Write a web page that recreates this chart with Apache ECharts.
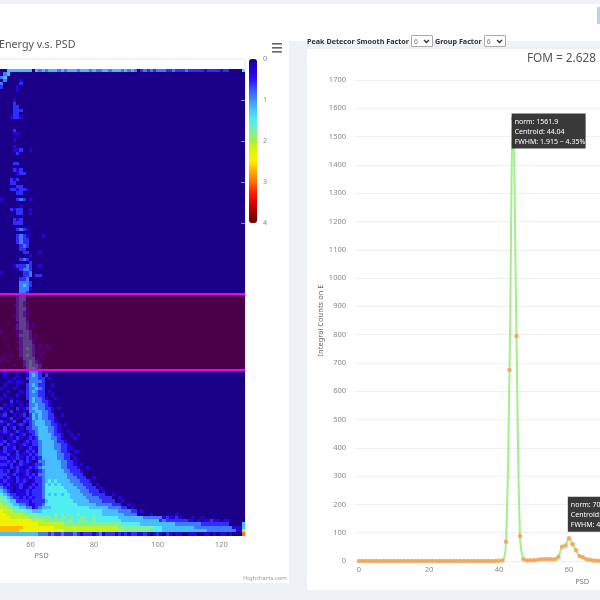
<!DOCTYPE html>
<html>
<head>
<meta charset="utf-8">
<title>Energy v.s. PSD</title>
<script src="https://cdn.jsdelivr.net/npm/echarts@6/dist/echarts.min.js"></script>
<style>
html, body { margin: 0; padding: 0; width: 600px; height: 600px; overflow: hidden; background: #eef1f5; font-family: "Noto Sans", sans-serif; }
.panel { position: absolute; background: #fff; }
#main { position: absolute; left: 0; top: 0; width: 600px; height: 600px; }
#controls { position: absolute; left: 307px; top: 35px; height: 12px; display: flex; align-items: center; font-size: 7.2px; font-weight: bold; color: #333; white-space: nowrap; }
#controls select { appearance: none; -webkit-appearance: none; width: 22px; height: 12px; font-size: 7px; padding: 0 0 0 2px; margin: 0 2px; color: #777; border: 1px solid #aaa; border-radius: 1px;
    background: #fff url("data:image/svg+xml,%3Csvg xmlns='http://www.w3.org/2000/svg' width='7' height='5'%3E%3Cpath d='M1 1l2.5 2.5L6 1' fill='none' stroke='%23333' stroke-width='1.4'/%3E%3C/svg%3E") no-repeat right 2px center; }
</style>
</head>
<body>
<div class="panel" style="left:0;top:4px;width:600px;height:37px"></div>
<div class="panel" style="left:0;top:41px;width:289px;height:542px"></div>
<div class="panel" style="left:307px;top:49px;width:293px;height:541px"></div>
<div style="position:absolute;left:597px;top:7px;width:3px;height:17px;background:#b9d2ee"></div>
<div id="main"></div>
<div id="controls">Peak Detecor Smooth Factor<select><option>6</option></select>Group Factor<select><option>6</option></select></div>
<script>
// 每个 level 对应 log10(counts) = level * 0.3, 格式 "起始PSD:levels", 第一行是最底下一行
var heatRows = [
    "50:4444444444444333232232223212221231222121212211210121021011001110011010110100 127:a",
    "50:99999998888888888888877777777777777777776666666655554444444444444433333333333 125:11 127:7",
    "50:9999999988888888887777777777777777777766666666666555444444444433333333333332 124:111 127:4",
    "50:8888888888888777777776666666666666666665555554444444444433333333222222222 124:000 127:4",
    "50:8888888888877776666665665666656555555554444444444442322222221101011211011",
    "50:8888777777666666656566565566556555555544444444333333121121 111:1 114:1",
    "50:88877777666665555565656556555555544444443333 96:0 98:1 106:1",
    "50:887776666554 62:44 64:5555555555555555555 83:44444 88:3333 92:22 95:1",
    "50:877665544 59:33 61:12 63:3 64:444 67:555555555555 79:444444 85:3333 89:22 92:1",
    "50:77665443 58:32 60:112 63:23 65:5555555555 75:444444 81:33333 86:222 91:1",
    "50:7665442 57:222 60:1 61:22 63:22 65:4 66:55555555 74:44444 79:3333 83:2222 89:1",
    "50:66543 55:22 57:121212 63:23 65:55555555 73:44444 78:3333 82:2222 88:1",
    "50:6543 54:22 56:111 59:2122 63:23 65:54545455 73:4444 77:333 80:2222 86:1",
    "50:543 53:2 54:1011 58:12122 63:23 65:5555555 72:4444 76:333 79:222 83:1",
    "50:432 53:1 54:101201212 63:23 65:555555 71:4444 75:333 78:222 82:1",
    "50:32 52:12011210121 63:23 65:54545 70:4444 74:333 77:222 81:1",
    "50:21 52:21102121012 63:23 65:4545 69:4444 73:333 76:222 79:1",
    "50:22 52:12102111212 63:23 65:4444444 72:333 75:222 80:1",
    "50:22 52:21121012121 63:33 65:4444444 72:33 74:222",
    "50:12 52:12012112101 63:23 65:444444 71:33 73:222 76:1",
    "50:21 52:10212101212 63:34 65:44444 70:33 72:222 75:1 78:1",
    "50:12 52:21201211012 63:23 65:44444 70:33 72:22 74:1 76:1",
    "50:21 52:12120212101 63:33 65:44444 70:33 72:22 74:1",
    "50:12 52:20112102121 63:24 65:4444 69:33 71:22 74:1",
    "50:21 52:12012111212 63:34 65:4444 69:33 71:22 73:1",
    "50:11 52:21102012121 63:34 65:4444 69:3 70:22 72:1 74:11",
    "50:1021120101211 63:3 64:4444 68:33 70:22 72:1 73:1",
    "50:1202110121022 63:34444 68:33 70:22 72:1",
    "50:0120121012 60:122 63:34444 68:3 69:22 71:1",
    "50:2101102101 60:212 63:44443 68:32 70:1 74:1",
    "50:1010210120 60:123 63:44443 68:22 70:1 73:1 75:1",
    "50:0121012101 60:223 63:44433 68:2 69:1 72:1",
    "50:1020120102 60:233 63:4443 67:32 69:1",
    "50:0102101210 60:234 63:4433 67:22 69:1 71:1",
    "50:0210120021 60:234 63:4433 67:2 68:1",
    "50:1001201012 60:243 63:4332 67:21",
    "50:0120010120 60:243 63:433 66:22 70:1",
    "50:0010201010 60:334 63:433 66:2 67:1",
    "50:0201002012 60:344 63:33 65:22 67:1 69:1",
    "50:0010100101 60:334 63:33 65:2 66:1",
    "54:201 60:343 63:32 65:21",
    "51:1 54:1 59:2 60:343 63:32 65:1 68:1",
    "52:1 56:1 59:2 60:333 63:22 67:1",
    "50:1 53:1 57:1 59:2 60:343 63:22 66:1",
    "51:1 55:1 59:2 60:334 63:3 64:2",
    "52:1 56:1 59:2 60:343 63:2 64:2 67:1",
    "53:11 56:11 60:333 63:3 64:2",
    "55:1 59:2 60:333 63:2 64:2 66:1",
    "52:1 56:1 59:1 60:343 63:2 65:2",
    "52:1 59:2 60:333 63:2 65:1 67:1",
    // 下面是 band 里面
    "52:1 58:1 59:3 60:443 63:2 65:1",
    "55:1 58:2 59:343 62:3 63:2",
    "51:1 53:1 58:2 59:343 62:2 63:1",
    "50:11 57:1 58:333 61:3 62:1 64:1",
    "52:1 54:1 57:2 58:343 61:2 63:1",
    "57:2 58:333 61:2 62:1 64:1",
    "50:1 56:1 57:2 58:343 61:2 63:1 65:1 66:1",
    "53:1 57:2 58:33 60:3 61:2 63:1 65:1",
    "56:1 57:2 58:333 61:1",
    "52:1 57:2 58:33 60:2 61:1",
    "56:1 57:3 58:33 60:2 62:1",
    "51:1 56:1 57:2 58:33 60:2",
    "55:1 56:2 57:33 59:2 60:1",
    "56:2 57:33 59:2 61:1",
    "53:1 56:1 57:3 58:3 59:2",
    "56:2 57:33 59:1",
    "55:1 56:2 57:3 58:2 59:1",
    "56:2 57:32 59:1",
    "56:2 57:33 59:1",
    "55:1 56:2 57:3 58:2",
    "56:2 57:3 58:2 59:1",
    "56:2 57:33",
    "56:2 57:33 59:1",
    // band 上面, 稀疏
    "57:33 59:2",
    "57:333 60:1",
    "57:343 60:2",
    "57:333 60:2",
    "57:223",
    "58:223 62:22",
    "51:1 58:223",
    "57:2332",
    "50:1 55:122232 63:1",
    "60:2",
    "57:232",
    "60:1",
    "58:22 63:1",
    "57:22",
    "57:232",
    "56:2322",
    "56:2322",
    "56:2321 64:1",
    "",
    "56:2321",
    "",
    "55:222",
    "55:212",
    "",
    "56:22 60:1",
    "54:2122 60:1",
    "57:1",
    "",
    "51:1 56:232 60:1",
    "",
    "56:22",
    "54:22122 59:1",
    "56:22",
    "54:22",
    "54:212",
    "",
    "56:122",
    "55:212",
    "",
    "55:22",
    "",
    "",
    "56:2",
    "55:112 60:1",
    "55:1",
    "",
    "55:1",
    "",
    "55:11",
    "55:2",
    "",
    "",
    "",
    "54:1221",
    "55:22",
    "55:222",
    "55:22",
    "55:2",
    "55:1",
    "",
    "",
    "50:2 56:1",
    "51:2 56:1",
    "51:3 57:2",
    "52:3 57:1",
    "51:34",
    "52:34",
    "53:4444444404343444343444344434334434443434344 94:0 95:2323233322322232 111:222212222122 127:5"
];
var lastCol = 127;
var colStart = 50;

// 右边的谱, x = 0,1,2...
var peakValues = [
    0, 0, 0, 0, 0, 0, 0, 0, 0, 0, 0, 0, 0, 0, 0, 0, 0, 0, 0, 0,
    0, 0, 0, 0, 0, 0, 0, 0, 0, 0, 0, 0, 0, 0, 0, 0, 0, 0, 0, 0,
    1, 2, 68, 675, 1561.9, 795, 88, 6, 2, 3, 3, 4, 6, 6, 7, 6, 6, 15,
    50, 55, 80, 59, 38, 18, 13, 6, 4, 2, 1, 1, 1
];
var peakTips = [
    { psd: 44.04, norm: 1561.9, text: 'norm: 1561.9\nCentroid: 44.04\nFWHM: 1.915 ~ 4.35%', pos: [-1, -5] },
    { psd: 60.1, norm: 80, text: 'norm: 70.6\nCentroid: 60.12\nFWHM: 4.85 ~ 8.07%', pos: [-1, -41] }
];
var bandEdges = [50, 73];
var colorbarStops = [
    '#1a0088', '#2400d8', '#2c10ff', '#3858ff', '#4090ff', '#48c8ff', '#50eef0', '#78f0b0', '#a8f040',
    '#e0f800', '#ffee00', '#ffaa00', '#ff7000', '#ff2000', '#e00000', '#a00000', '#6a0000'
];

var psdBins = [];
for (var i = 0; i <= lastCol; i++) psdBins.push(String(i));
var rowBins = [];
for (var j = 0; j < 144; j++) rowBins.push(String(j));

var heatData = [];
heatRows.forEach(function (line, r) {
    var levels = {};
    line.split(' ').forEach(function (seg) {
        if (!seg) return;
        var parts = seg.split(':');
        for (var k = 0; k < parts[1].length; k++) {
            levels[+parts[0] + k] = parseInt(parts[1][k], 36);
        }
    });
    for (var c = colStart; c <= lastCol; c++) {
        heatData.push([c, r, (levels[c] || 0) * 0.3]);
    }
});

var peakData = peakValues.map(function (v, x) { return [x, v]; });

// heatmap 系列的格子之间有缝, 用 custom 取整画
function renderCell(params, api) {
    var p = api.coord([api.value(0), api.value(1)]);
    var s = api.size([1, 1]);
    var x0 = Math.round(p[0] - s[0] / 2), x1 = Math.round(p[0] + s[0] / 2);
    var y0 = Math.round(p[1] - s[1] / 2), y1 = Math.round(p[1] + s[1] / 2);
    return { type: 'rect', shape: { x: x0, y: y0, width: x1 - x0, height: y1 - y0 }, style: { fill: api.visual('color') } };
}

var myEcharts = echarts.init(document.getElementById('main'));
var option = {
    animation: false,
    backgroundColor: 'transparent',
    textStyle: { fontFamily: '"Noto Sans", sans-serif' },
    title: [
        { text: 'Energy v.s. PSD', left: -1, top: 39, padding: 0, textStyle: { fontSize: 10.7, fontWeight: 'normal', color: '#555' } },
        { text: 'FOM = 2.628', right: 4, top: 53, padding: 0, textStyle: { fontSize: 11.8, fontWeight: 'normal', color: '#555' } },
        { text: 'Highcharts.com', left: 243, top: 575, padding: 0, textStyle: { fontSize: 5.9, fontWeight: 'normal', color: '#999' } }
    ],
    graphic: [
        { type: 'rect', shape: { x: 272, y: 43, width: 10, height: 1.6 }, style: { fill: '#666' } },
        { type: 'rect', shape: { x: 272, y: 47, width: 10, height: 1.6 }, style: { fill: '#666' } },
        { type: 'rect', shape: { x: 272, y: 51, width: 10, height: 1.6 }, style: { fill: '#666' } }
    ],
    grid: [
        // 热图, 左边超出画布
        { left: -161.9, width: 407, top: 59, bottom: 64.3, outerBoundsMode: 'none', show: true, borderColor: '#e6e6e6', borderWidth: 1, backgroundColor: '#fff' },
        { left: -161.9, width: 407, top: 59, bottom: 64.3, outerBoundsMode: 'none' },
        // colorbar
        { left: 249, width: 8, top: 59, height: 164, outerBoundsMode: 'none' },
        // 谱, 右边超出画布
        { left: 355, width: 454.5, top: 80, bottom: 39, outerBoundsMode: 'none' }
    ],
    xAxis: [
        {
            type: 'category', gridIndex: 0, data: psdBins, name: 'PSD', nameLocation: 'middle', nameGap: 16, nameMoveOverlap: false,
            nameTextStyle: { fontSize: 7.5, color: '#777' },
            axisLine: { show: false },
            axisTick: { alignWithLabel: true, length: 3, lineStyle: { color: '#ddd' }, interval: function (i) { return i % 20 === 0; } },
            axisLabel: { fontSize: 7.5, color: '#888', margin: 5, interval: function (i) { return i % 20 === 0; } }
        },
        { type: 'value', gridIndex: 1, min: 0, max: 1, show: false },
        { type: 'value', gridIndex: 2, min: 0, max: 1, show: false },
        {
            type: 'value', gridIndex: 3, min: -1.14, max: 128.72, name: 'PSD', nameLocation: 'middle', nameGap: 17, nameMoveOverlap: false,
            nameTextStyle: { fontSize: 7.5, color: '#777' },
            splitLine: { show: false }, axisLine: { show: false }, axisTick: { show: false },
            axisLabel: { fontSize: 7.5, color: '#888', margin: 5, customValues: [0, 20, 40, 60, 80, 100, 120] }
        }
    ],
    yAxis: [
        { type: 'category', gridIndex: 0, data: rowBins, show: false },
        { type: 'value', gridIndex: 1, min: 0, max: 144, show: false },
        {
            type: 'value', gridIndex: 2, min: 0, max: 4, interval: 1, inverse: true, position: 'right', z: 6,
            axisLine: { show: false }, splitLine: { show: false },
            axisTick: { inside: true, length: 8, lineStyle: { color: 'rgba(255,255,255,0.5)' } },
            axisLabel: { fontSize: 7, color: '#888', margin: 6 }
        },
        {
            type: 'value', gridIndex: 3, min: 0, max: 1700, interval: 100, name: 'Integral Counts on E', nameLocation: 'middle', nameGap: 30, nameMoveOverlap: false,
            nameTextStyle: { fontSize: 7.5, color: '#666' },
            axisLine: { show: false }, axisTick: { show: false },
            splitLine: { lineStyle: { color: '#f0f0f0' } },
            axisLabel: { fontSize: 7.5, color: '#888', margin: 9, formatter: function (v) { return String(v); } }
        }
    ],
    visualMap: {
        type: 'continuous', seriesIndex: 0, dimension: 2, min: 0, max: 4, inverse: true, calculable: false, hoverLink: false,
        left: 249, top: 59, itemWidth: 8, itemHeight: 164, padding: 0, text: null, showLabel: false,
        inRange: { color: colorbarStops }
    },
    series: [
        {
            type: 'custom', xAxisIndex: 0, yAxisIndex: 0, data: heatData, progressive: 0, silent: true,
            encode: { x: 0, y: 1 }, renderItem: renderCell
        },
        {
            type: 'line', xAxisIndex: 1, yAxisIndex: 1, silent: true, z: 5, symbol: 'none', lineStyle: { opacity: 0 },
            data: [[0, bandEdges[0]], [1, bandEdges[1]]],
            markArea: {
                silent: true, z: 6, itemStyle: { color: 'rgba(128,0,0,0.47)' },
                data: [[{ coord: [0, bandEdges[0]] }, { coord: [1, bandEdges[1]] }]]
            },
            markLine: {
                silent: true, z: 7, symbol: 'none', label: { show: false }, animation: false,
                lineStyle: { color: '#ee00ee', width: 2, type: 'solid' },
                data: [{ yAxis: bandEdges[0] }, { yAxis: bandEdges[1] }]
            }
        },
        {
            type: 'line', xAxisIndex: 3, yAxisIndex: 3, data: peakData, smooth: 0.4, silent: true,
            showSymbol: true, showAllSymbol: true, symbol: 'circle', symbolSize: 4.5, clip: false,
            lineStyle: { color: '#a2ef8c', width: 2 },
            itemStyle: { color: '#f7a35c', opacity: 0.9 },
            markPoint: {
                silent: true, symbol: 'rect', symbolSize: 1, itemStyle: { color: 'transparent' },
                label: {
                    show: true, color: '#fff', fontSize: 7, lineHeight: 10, align: 'left', verticalAlign: 'top',
                    backgroundColor: 'rgba(40,40,40,0.92)', padding: [3, 3, 2, 3], width: 68
                },
                data: peakTips.map(function (t) {
                    return { coord: [t.psd, t.norm], label: { formatter: t.text, position: t.pos } };
                })
            }
        }
    ]
};
myEcharts.setOption(option);
</script>
</body>
</html>
